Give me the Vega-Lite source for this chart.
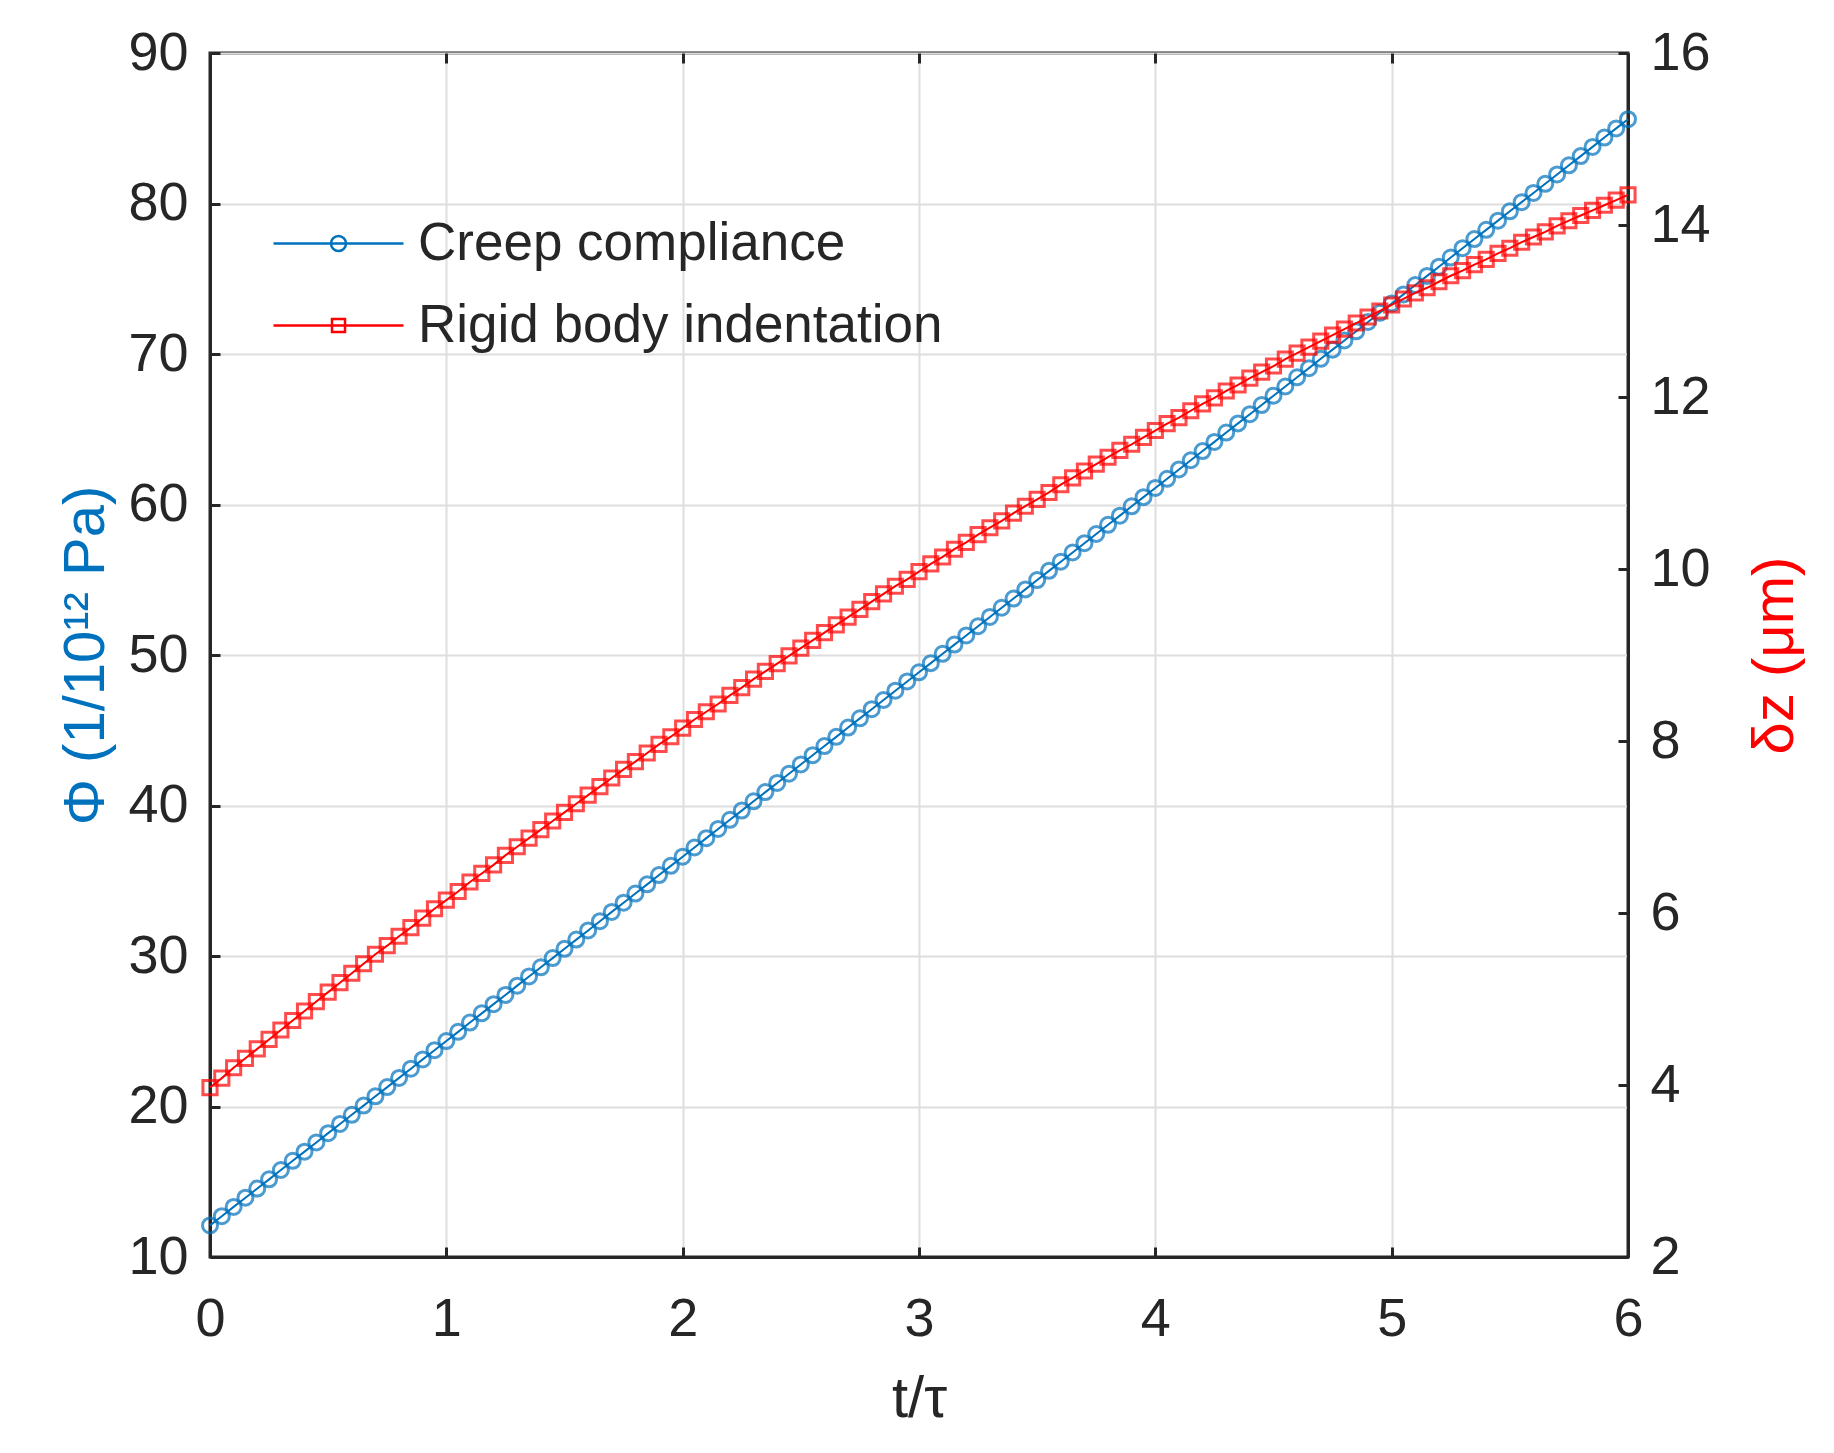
{
  "$schema": "https://vega.github.io/schema/vega-lite/v6.json",
  "width": 1418,
  "height": 1204,
  "autosize": {"type": "none"},
  "padding": {"left": 210, "top": 53, "right": 206, "bottom": 196},
  "background": "white",
  "config": {
    "view": {"stroke": "#262626", "strokeWidth": 3},
    "font": "Liberation Sans",
    "axis": {
      "labelFont": "Liberation Sans",
      "labelFontSize": 54,
      "labelColor": "#262626",
      "labelFlush": false,
      "titleFont": "Liberation Sans",
      "titleFontSize": 58,
      "titleFontWeight": "normal",
      "titleColor": "#262626",
      "domainColor": "#262626",
      "domainWidth": 3,
      "tickColor": "#262626",
      "tickWidth": 3,
      "tickSize": -10,
      "gridColor": "#dedede",
      "gridWidth": 2
    }
  },
  "data": {
    "values": [
      {"t": 0, "phi": 12.10, "delta": 3.97},
      {"t": 0.05, "phi": 12.71, "delta": 4.08},
      {"t": 0.1, "phi": 13.33, "delta": 4.20},
      {"t": 0.15, "phi": 13.94, "delta": 4.31},
      {"t": 0.2, "phi": 14.55, "delta": 4.42},
      {"t": 0.25, "phi": 15.16, "delta": 4.53},
      {"t": 0.3, "phi": 15.78, "delta": 4.64},
      {"t": 0.35, "phi": 16.39, "delta": 4.75},
      {"t": 0.4, "phi": 17.00, "delta": 4.86},
      {"t": 0.45, "phi": 17.61, "delta": 4.97},
      {"t": 0.5, "phi": 18.23, "delta": 5.08},
      {"t": 0.55, "phi": 18.84, "delta": 5.19},
      {"t": 0.6, "phi": 19.45, "delta": 5.30},
      {"t": 0.65, "phi": 20.06, "delta": 5.41},
      {"t": 0.7, "phi": 20.68, "delta": 5.52},
      {"t": 0.75, "phi": 21.29, "delta": 5.62},
      {"t": 0.8, "phi": 21.90, "delta": 5.73},
      {"t": 0.85, "phi": 22.51, "delta": 5.83},
      {"t": 0.9, "phi": 23.13, "delta": 5.94},
      {"t": 0.95, "phi": 23.74, "delta": 6.05},
      {"t": 1.0, "phi": 24.35, "delta": 6.15},
      {"t": 1.05, "phi": 24.96, "delta": 6.25},
      {"t": 1.1, "phi": 25.58, "delta": 6.36},
      {"t": 1.15, "phi": 26.19, "delta": 6.46},
      {"t": 1.2, "phi": 26.80, "delta": 6.56},
      {"t": 1.25, "phi": 27.41, "delta": 6.67},
      {"t": 1.3, "phi": 28.03, "delta": 6.77},
      {"t": 1.35, "phi": 28.64, "delta": 6.87},
      {"t": 1.4, "phi": 29.25, "delta": 6.97},
      {"t": 1.45, "phi": 29.86, "delta": 7.07},
      {"t": 1.5, "phi": 30.48, "delta": 7.17},
      {"t": 1.55, "phi": 31.09, "delta": 7.27},
      {"t": 1.6, "phi": 31.70, "delta": 7.37},
      {"t": 1.65, "phi": 32.31, "delta": 7.47},
      {"t": 1.7, "phi": 32.93, "delta": 7.57},
      {"t": 1.75, "phi": 33.54, "delta": 7.67},
      {"t": 1.8, "phi": 34.15, "delta": 7.76},
      {"t": 1.85, "phi": 34.76, "delta": 7.86},
      {"t": 1.9, "phi": 35.38, "delta": 7.96},
      {"t": 1.95, "phi": 35.99, "delta": 8.05},
      {"t": 2.0, "phi": 36.60, "delta": 8.15},
      {"t": 2.05, "phi": 37.21, "delta": 8.25},
      {"t": 2.1, "phi": 37.83, "delta": 8.34},
      {"t": 2.15, "phi": 38.44, "delta": 8.43},
      {"t": 2.2, "phi": 39.05, "delta": 8.53},
      {"t": 2.25, "phi": 39.66, "delta": 8.62},
      {"t": 2.3, "phi": 40.28, "delta": 8.72},
      {"t": 2.35, "phi": 40.89, "delta": 8.81},
      {"t": 2.4, "phi": 41.50, "delta": 8.90},
      {"t": 2.45, "phi": 42.11, "delta": 8.99},
      {"t": 2.5, "phi": 42.73, "delta": 9.08},
      {"t": 2.55, "phi": 43.34, "delta": 9.17},
      {"t": 2.6, "phi": 43.95, "delta": 9.26},
      {"t": 2.65, "phi": 44.56, "delta": 9.35},
      {"t": 2.7, "phi": 45.18, "delta": 9.44},
      {"t": 2.75, "phi": 45.79, "delta": 9.53},
      {"t": 2.8, "phi": 46.40, "delta": 9.62},
      {"t": 2.85, "phi": 47.01, "delta": 9.71},
      {"t": 2.9, "phi": 47.63, "delta": 9.80},
      {"t": 2.95, "phi": 48.24, "delta": 9.88},
      {"t": 3.0, "phi": 48.85, "delta": 9.97},
      {"t": 3.05, "phi": 49.46, "delta": 10.06},
      {"t": 3.1, "phi": 50.08, "delta": 10.14},
      {"t": 3.15, "phi": 50.69, "delta": 10.23},
      {"t": 3.2, "phi": 51.30, "delta": 10.31},
      {"t": 3.25, "phi": 51.91, "delta": 10.40},
      {"t": 3.3, "phi": 52.53, "delta": 10.48},
      {"t": 3.35, "phi": 53.14, "delta": 10.56},
      {"t": 3.4, "phi": 53.75, "delta": 10.65},
      {"t": 3.45, "phi": 54.36, "delta": 10.73},
      {"t": 3.5, "phi": 54.98, "delta": 10.81},
      {"t": 3.55, "phi": 55.59, "delta": 10.89},
      {"t": 3.6, "phi": 56.20, "delta": 10.98},
      {"t": 3.65, "phi": 56.81, "delta": 11.06},
      {"t": 3.7, "phi": 57.43, "delta": 11.14},
      {"t": 3.75, "phi": 58.04, "delta": 11.22},
      {"t": 3.8, "phi": 58.65, "delta": 11.30},
      {"t": 3.85, "phi": 59.26, "delta": 11.38},
      {"t": 3.9, "phi": 59.88, "delta": 11.45},
      {"t": 3.95, "phi": 60.49, "delta": 11.53},
      {"t": 4.0, "phi": 61.10, "delta": 11.61},
      {"t": 4.05, "phi": 61.71, "delta": 11.69},
      {"t": 4.1, "phi": 62.33, "delta": 11.76},
      {"t": 4.15, "phi": 62.94, "delta": 11.84},
      {"t": 4.2, "phi": 63.55, "delta": 11.92},
      {"t": 4.25, "phi": 64.16, "delta": 11.99},
      {"t": 4.3, "phi": 64.78, "delta": 12.07},
      {"t": 4.35, "phi": 65.39, "delta": 12.14},
      {"t": 4.4, "phi": 66.00, "delta": 12.22},
      {"t": 4.45, "phi": 66.61, "delta": 12.29},
      {"t": 4.5, "phi": 67.23, "delta": 12.36},
      {"t": 4.55, "phi": 67.84, "delta": 12.44},
      {"t": 4.6, "phi": 68.45, "delta": 12.51},
      {"t": 4.65, "phi": 69.06, "delta": 12.58},
      {"t": 4.7, "phi": 69.68, "delta": 12.65},
      {"t": 4.75, "phi": 70.29, "delta": 12.72},
      {"t": 4.8, "phi": 70.90, "delta": 12.79},
      {"t": 4.85, "phi": 71.51, "delta": 12.86},
      {"t": 4.9, "phi": 72.13, "delta": 12.93},
      {"t": 4.95, "phi": 72.74, "delta": 13.00},
      {"t": 5.0, "phi": 73.35, "delta": 13.07},
      {"t": 5.05, "phi": 73.96, "delta": 13.14},
      {"t": 5.1, "phi": 74.58, "delta": 13.21},
      {"t": 5.15, "phi": 75.19, "delta": 13.27},
      {"t": 5.2, "phi": 75.80, "delta": 13.34},
      {"t": 5.25, "phi": 76.41, "delta": 13.41},
      {"t": 5.3, "phi": 77.03, "delta": 13.47},
      {"t": 5.35, "phi": 77.64, "delta": 13.54},
      {"t": 5.4, "phi": 78.25, "delta": 13.60},
      {"t": 5.45, "phi": 78.86, "delta": 13.67},
      {"t": 5.5, "phi": 79.48, "delta": 13.73},
      {"t": 5.55, "phi": 80.09, "delta": 13.80},
      {"t": 5.6, "phi": 80.70, "delta": 13.86},
      {"t": 5.65, "phi": 81.31, "delta": 13.92},
      {"t": 5.7, "phi": 81.93, "delta": 13.99},
      {"t": 5.75, "phi": 82.54, "delta": 14.05},
      {"t": 5.8, "phi": 83.15, "delta": 14.11},
      {"t": 5.85, "phi": 83.76, "delta": 14.17},
      {"t": 5.9, "phi": 84.38, "delta": 14.23},
      {"t": 5.95, "phi": 84.99, "delta": 14.29},
      {"t": 6.0, "phi": 85.60, "delta": 14.35}
    ]
  },
  "layer": [
    {
      "encoding": {
        "x": {
          "field": "t",
          "type": "quantitative",
          "scale": {"domain": [0, 6], "nice": false},
          "axis": {
            "values": [0, 1, 2, 3, 4, 5, 6],
            "title": "t/τ",
            "grid": true,
            "labelPadding": 45,
            "titlePadding": 24
          }
        },
        "y": {
          "field": "phi",
          "type": "quantitative",
          "scale": {"domain": [10, 90], "nice": false},
          "axis": {
            "values": [10, 20, 30, 40, 50, 60, 70, 80, 90],
            "title": "Φ (1/10¹² Pa)",
            "titleColor": "#0072BD",
            "grid": true,
            "labelPadding": 32,
            "titlePadding": 12
          }
        }
      },
      "layer": [
        {
          "mark": {"type": "line", "strokeWidth": 2, "color": "#0072BD"},
          "encoding": {
            "color": {
              "datum": "Creep compliance",
              "type": "nominal",
              "scale": {
                "domain": ["Creep compliance", "Rigid body indentation"],
                "range": ["#0072BD", "#FF0000"]
              },
              "legend": {
                "orient": "none",
                "legendX": 102,
                "legendY": 164,
                "title": null,
                "padding": 0,
                "labelFont": "Liberation Sans",
                "labelFontSize": 53,
                "labelColor": "#262626",
                "labelLimit": 900,
                "labelOffset": 53,
                "symbolSize": 400,
                "symbolStrokeWidth": 2.5,
                "rowPadding": 28,
                "encode": {
                  "symbols": {
                    "update": {
                      "shape": {"signal": "datum.value === 'Creep compliance' ? 'M-6.5,0H6.5M0.75,0A0.75,0.75,0,1,1,-0.75,0A0.75,0.75,0,1,1,0.75,0' : 'M-6.5,0H6.5M-0.65,-0.65H0.65V0.65H-0.65Z'"},
                      "fill": {"value": "transparent"}
                    }
                  }
                }
              }
            }
          }
        },
        {
          "mark": {"type": "point", "shape": "circle", "filled": false, "size": 225, "strokeWidth": 3, "color": "#0072BD"}
        }
      ]
    },
    {
      "encoding": {
        "x": {
          "field": "t",
          "type": "quantitative",
          "scale": {"domain": [0, 6], "nice": false},
          "axis": {
            "orient": "top",
            "values": [0, 1, 2, 3, 4, 5, 6],
            "labels": false,
            "title": null,
            "grid": false,
            "domain": false
          }
        },
        "y": {
          "field": "delta",
          "type": "quantitative",
          "scale": {"domain": [2, 16], "nice": false},
          "axis": {
            "orient": "right",
            "values": [2, 4, 6, 8, 10, 12, 14, 16],
            "title": "δz (μm)",
            "titleColor": "#FF0000",
            "titleAngle": 270,
            "titleBaseline": "top",
            "grid": false,
            "labelPadding": 32,
            "titlePadding": 36
          }
        }
      },
      "layer": [
        {
          "mark": {"type": "line", "strokeWidth": 2, "color": "#FF0000"},
          "encoding": {
            "color": {"datum": "Rigid body indentation", "type": "nominal"}
          }
        },
        {
          "mark": {"type": "point", "shape": "square", "filled": false, "size": 200, "strokeWidth": 3, "color": "#FF0000"}
        }
      ]
    }
  ],
  "resolve": {
    "scale": {"y": "independent"},
    "axis": {"x": "independent", "y": "independent"}
  }
}
